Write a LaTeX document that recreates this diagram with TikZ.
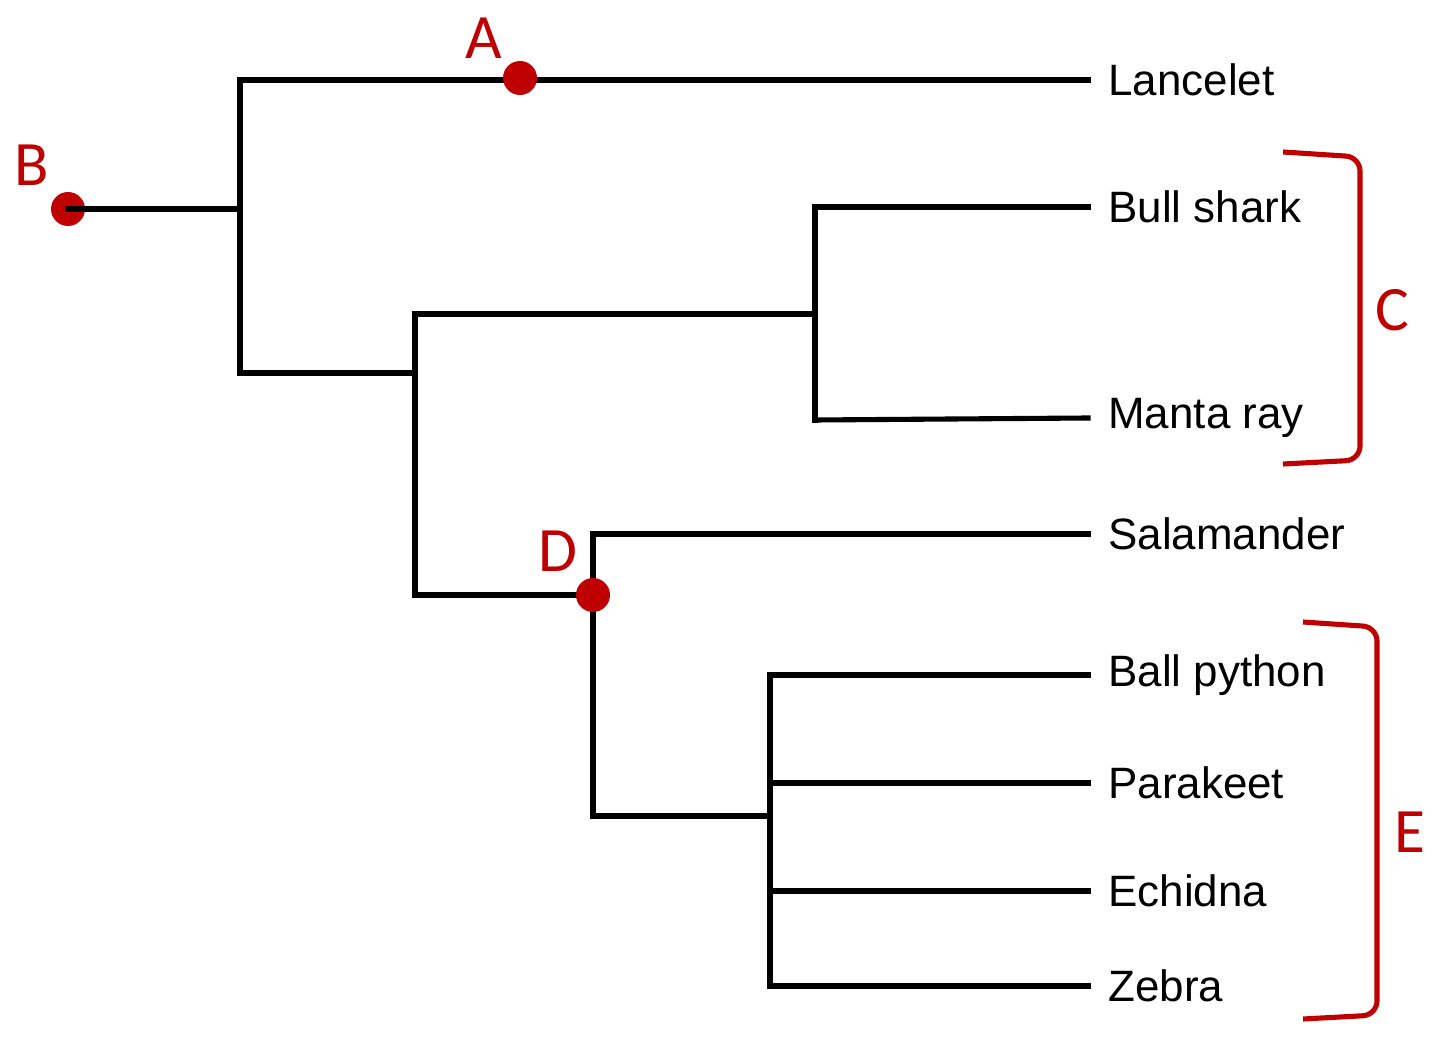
\documentclass[tikz,border=0pt]{standalone}
\usepackage{fontspec}
\setmainfont{Liberation Sans}
\newfontfamily\redfont{Carlito}
\begin{document}
\begin{tikzpicture}[x=0.02cm,y=-0.02cm,
  br/.style={line width=2.9pt,line cap=rect},
  lbl/.style={anchor=west,font=\fontsize{25}{28}\selectfont,inner sep=0pt},
  rl/.style={text=red!75!black,font=\redfont\fontsize{36}{40}\selectfont,inner sep=0pt},
  dotn/.style={circle,fill=red!75!black,minimum size=0.68cm,inner sep=0pt},
  brk/.style={draw=red!75!black,line width=2.9pt,rounded corners=8pt}]
\useasboundingbox (0,0) rectangle (1446,1060);
\coordinate (r) at (240,209);
\node[dotn] (B) at (68,209) {};
\draw[br] (B.center) -- (r);
\draw[br] (240,80) -- (240,373);
\node[lbl] (l1) at (1108,80) {Lancelet};
\draw[br] (240,80) -- (1088,80);
\node[dotn] (A) at (520,78) {};
\draw[br] (240,373) -- (415,373);
\draw[br] (415,314) -- (415,595);
\draw[br] (415,314) -- (815,314);
\draw[br] (815,207) -- (815,420);
\node[lbl] (l2) at (1108,207) {Bull shark};
\node[lbl] (l3) at (1108,418) {Manta ray};
\draw[br] (815,207) -- (1088,207);
\draw[br] (815,420) -- (1088,418);
\draw[br] (415,595) -- (593,595);
\draw[br] (593,534) -- (593,816);
\node[lbl] (l4) at (1108,534) {Salamander};
\draw[br] (593,534) -- (1088,534);
\draw[br] (593,816) -- (770,816);
\draw[br] (770,675) -- (770,986);
\foreach \y/\t/\n in {675/Ball python/l5,783/Parakeet/l6,891/Echidna/l7,986/Zebra/l8}{
  \node[lbl] (\n) at (1108,\y) {\t};
  \draw[br] (770,\y) -- (1088,\y);
}
\node[dotn] (D) at (593,595) {};
\node[rl] (tA) at (484,38) {A};
\node[rl] (tB) at (32,165) {B};
\node[rl] (tD) at (558,551) {D};
\draw[brk] (1283,152) -- (1360,157) -- (1360,460) -- (1283,464);
\node[rl] (tC) at (1392,310) {C};
\draw[brk] (1303,622) -- (1377,627) -- (1377,1015) -- (1303,1019);
\node[rl] (tE) at (1410,832) {E};
\end{tikzpicture}
\end{document}
